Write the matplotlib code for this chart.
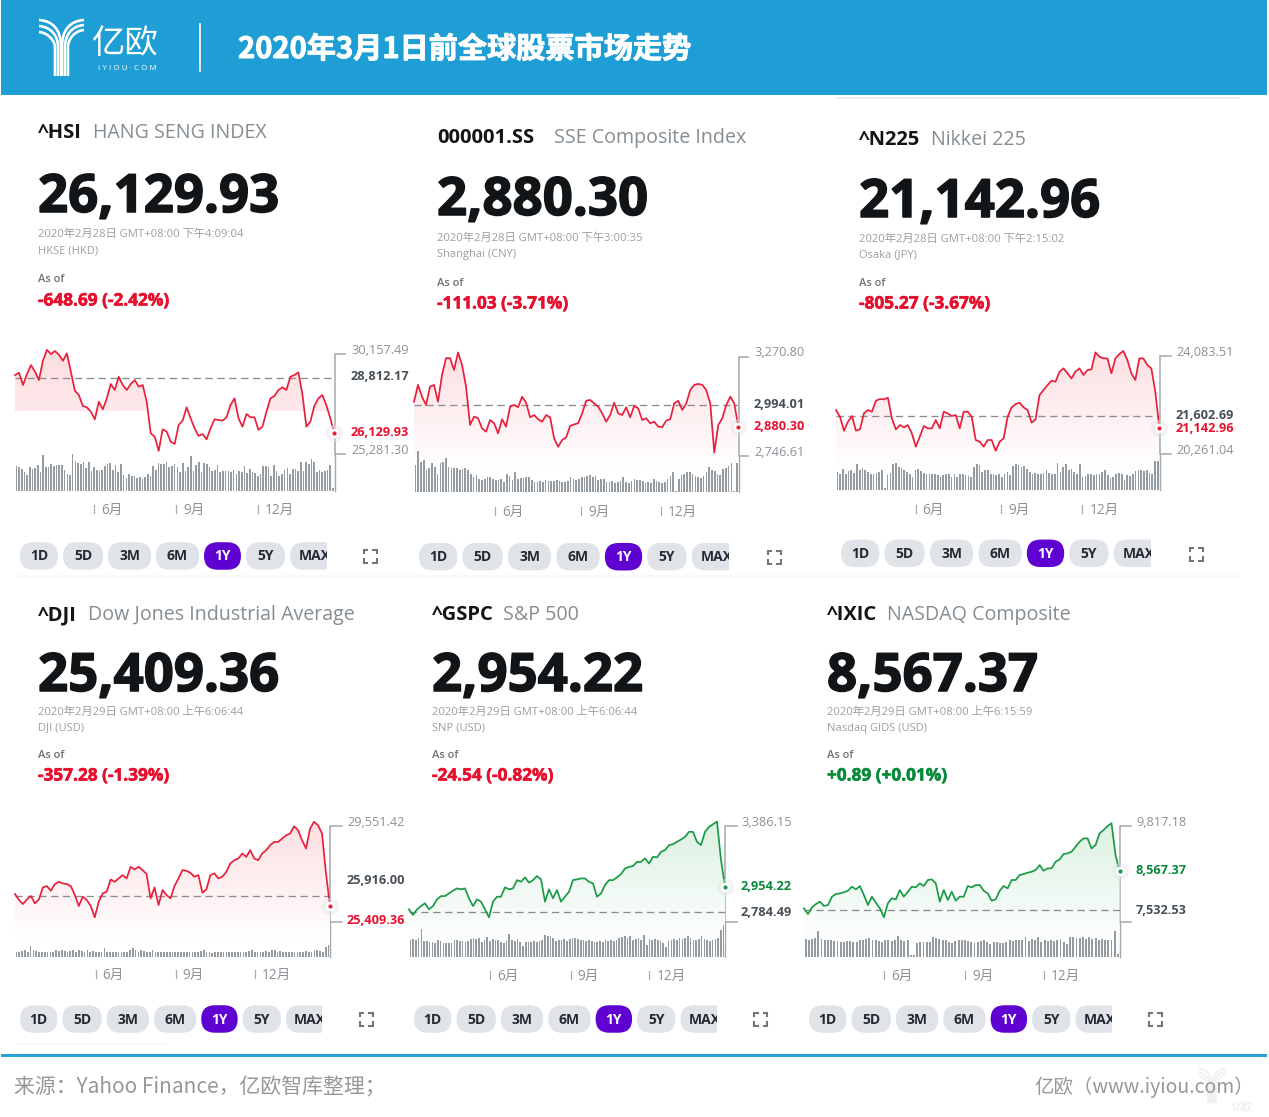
import numpy as np
import matplotlib
matplotlib.use("Agg")
import matplotlib.pyplot as plt
import matplotlib.patheffects as pe
from matplotlib.colors import LinearSegmentedColormap
from matplotlib.patches import FancyBboxPatch, PathPatch, Polygon, Rectangle
from matplotlib.path import Path

plt.rcParams['font.family'] = ['Open Sans', 'Noto Sans CJK SC', 'DejaVu Sans']

# Closing levels sampled across the one-year window
hsi_close = [28940,29053,28459,28989,29422,29101,28700,29631,30157.49,29952,30100,29920,29631,29984,29101,28186,27977,27447,27383,27174,26805,27656,27286,27816,28507,28218,28860,28459,28218,28507,28700,28378,28459,27656,26130,25969,25281.30,26323,26210,25728,25616,26532,26740,27383,26853,26371,26001,26098,25841,26371,26805,26772,26740,26901,27495,27816,26853,26451,27061,26901,26901,26291,26451,27174,27816,27929,28218,28346,28218,28860,28940,29069,28025,26451,26692,27447,27816,27977,27495,26853,26129.93]
sse_close = [3013,3101,3039,2996,3092,3101,3013,3153,3241,3241,3179,3270.80,3206,3092,2891,2935,2926,2873,2856,2917,2900,2847,2921,2882,2987,2996,2984,3039,3008,2931,2943,2921,2908,2943,2931,2821,2777,2812,2826,2886,2894,2900,2952,3018,3022,3004,2987,2952,2908,2943,3008,2952,2943,2984,2931,2991,2978,2917,2926,2900,2908,2882,2879,2914,2921,3004,3018,2970,3004,3074,3101,3106,3101,3074,3004,2746.61,2891,2926,2996,3039,3004,2880.30]
n225_close = [21820,21564,21028,21373,21590,21028,21079,21692,21820,21756,22177,22241,22229,22292,21501,21079,21245,21156,21245,20926,20415,20799,21207,21118,21118,21437,21118,21756,21692,21590,21629,21118,21756,21756,21564,20671,20607,20415,20671,20671,20261.04,20607,20735,21564,21922,22050,22101,21922,21820,21335,21463,22395,22586,22778,22944,22906,23289,23416,23225,23033,23289,23416,23161,23352,23378,24029,23863,23799,23799,23225,23799,23965,24083.51,23735,23225,22969,23799,23799,23544,23416,22522,21142.96]
dji_close = [25998,25704,25507,25736,25900,25540,25736,26325,26390,26161,26488,26602,26521,26488,26390,25949,25409,25867,25704,25409,24854,25622,26030,26112,26717,26602,26766,26929,26766,27338,27207,27338,27174,26978,25785,26325,25458,26194,25949,25785,26390,26766,27174,27141,27043,26847,26929,26063,26226,26929,27011,26766,26847,27092,27501,27664,27746,27991,27828,28155,27746,27664,27991,28155,28400,28563,28563,28726,28890,28972,29331,29135,28645,28236,29217,29551.42,29380,28972,27011,25409.36]
gspc_close = [2804,2767,2804,2826,2844,2804,2826,2870,2892,2892,2910,2928,2943,2937,2943,2877,2826,2870,2855,2804,2751,2855,2888,2888,2950,2937,2943,2998,2987,3016,2981,2998,3025,3003,2855,2937,2877,2932,2855,2888,2921,2998,3003,3009,3009,2987,2976,2888,2910,2965,2998,2998,3016,3038,3075,3086,3091,3119,3119,3142,3108,3153,3148,3186,3197,3230,3236,3252,3267,3285,3318,3318,3252,3230,3318,3351,3368,3386.15,3131,2954.22]
ixic_close = [7576,7427,7603,7690,7752,7638,7664,7883,7954,7971,7997,8041,8146,8076,8164,7927,7664,7883,7725,7576,7340,7708,7840,7813,8059,7883,8015,8146,8129,8234,8164,8322,8339,8234,7752,8059,7796,8015,7778,7883,7883,8164,8129,8190,8190,8041,7971,7778,7813,8041,8164,8102,8322,8322,8453,8480,8515,8541,8585,8716,8567,8629,8629,8804,8866,9006,9024,9067,9199,9330,9418,9418,9155,9243,9550,9637,9743,9817.18,8980,8567.37]

# Relative traded volume below each price line
hsi_volume = [75,72,65,58,48,72,66,70,78,58,108,72,72,80,75,78,78,78,62,50,48,112,90,85,80,86,70,86,60,72,62,60,62,75,80,85,62,78,56,80,48,38,50,46,44,38,42,36,40,50,46,76,62,84,80,82,86,72,76,82,72,58,84,60,72,104,60,78,86,58,84,80,72,60,62,78,58,60,60,60,58,62,50,60,58,74,54,66,58,54,46,50,76,74,72,46,78,60,46,50,62,70,50,66,66,60,86,60,86,80,96,86,56,62,56,60,62,78,8]
sse_volume = [80,120,90,95,65,70,85,75,55,85,90,100,75,72,72,70,65,68,70,65,55,45,50,40,35,40,45,45,40,35,35,40,30,55,48,35,60,40,42,42,45,44,35,30,30,32,30,35,32,34,33,35,32,30,30,32,45,40,35,40,45,45,48,50,45,48,35,38,38,30,30,32,28,30,32,45,30,28,34,38,35,35,32,28,30,28,38,32,30,28,30,38,48,60,4,40,50,55,58,60,55,48,45,42,48,58,75,65,62,55,52,68,72,78,85,5,85]
n225_volume = [55,50,65,50,58,62,52,78,62,66,60,55,50,48,52,55,60,5,45,52,80,82,70,68,62,55,50,38,60,65,58,52,50,48,50,48,46,38,45,50,48,40,48,40,48,48,46,44,40,70,78,75,55,62,60,50,48,45,48,40,48,55,45,72,78,75,70,72,65,55,50,52,48,50,52,60,52,50,48,82,55,70,78,60,65,55,50,78,40,42,48,48,45,48,48,55,60,45,35,38,50,52,50,30,45,42,50,58,60,62,58,60,52,50,88,88]
dji_volume = [15,16,18,20,16,34,20,18,15,16,14,14,14,15,22,18,20,18,16,18,20,16,22,18,16,20,16,18,14,16,14,28,16,14,14,15,14,16,14,16,20,26,22,16,20,18,16,14,20,16,14,16,14,14,16,14,16,14,14,16,14,14,16,14,16,18,20,16,14,12,16,14,16,14,14,16,14,16,14,16,14,14,18,20,16,14,14,16,18,16,20,22,16,18,14,16,14,14,16,15,14,16,18,14,16,20,22,18,16,30,38]
gspc_volume = [50,52,50,55,82,48,48,45,45,42,50,48,42,40,42,42,50,50,48,48,45,48,52,55,52,55,45,50,58,48,52,50,50,45,42,48,68,50,48,52,45,32,45,45,45,48,45,48,50,65,62,60,55,48,50,50,52,48,52,55,55,52,50,50,48,50,48,45,45,48,45,50,48,50,48,50,55,58,62,55,60,50,52,55,50,65,35,52,50,52,50,48,40,30,48,50,52,50,55,52,55,60,55,50,50,52,62,52,50,48,50,52,55,78,95]
ixic_volume = [55,50,55,58,78,55,52,50,50,48,48,46,46,48,48,45,45,52,50,55,58,50,52,48,45,52,50,48,52,65,50,48,50,5,5,42,45,45,45,46,60,58,55,52,50,45,42,48,50,50,52,48,46,42,44,48,50,45,38,45,44,42,42,44,52,48,50,52,50,60,48,55,50,62,45,50,48,52,48,52,55,45,40,62,62,58,58,60,55,60,55,58,52,55,50,52,50,80,8]

# Index tables
tickers = ['^HSI', '000001.SS', '^N225', '^DJI', '^GSPC', '^IXIC']
names = ['HANG SENG INDEX', 'SSE Composite Index', 'Nikkei 225', 'Dow Jones Industrial Average', 'S&P 500', 'NASDAQ Composite']
last_prices = [26129.93, 2880.30, 21142.96, 25409.36, 2954.22, 8567.37]
prev_closes = [28812.17, 2994.01, 21602.69, 25916.00, 2784.49, 7532.53]
range_highs = ['30,157.49', '3,270.80', '24,083.51', '29,551.42', '3,386.15', '9,817.18']
range_lows = ['25,281.30', '2,746.61', '20,261.04', '25,409.36', '2,784.49', '7,532.53']
timestamps = ['2020年2月28日 GMT+08:00 下午4:09:04', '2020年2月28日 GMT+08:00 下午3:00:35', '2020年2月28日 GMT+08:00 下午2:15:02',
              '2020年2月29日 GMT+08:00 上午6:06:44', '2020年2月29日 GMT+08:00 上午6:06:44', '2020年2月29日 GMT+08:00 上午6:15:59']
exchanges = ['HKSE (HKD)', 'Shanghai (CNY)', 'Osaka (JPY)', 'DJI (USD)', 'SNP (USD)', 'Nasdaq GIDS (USD)']
changes = ['-648.69 (-2.42%)', '-111.03 (-3.71%)', '-805.27 (-3.67%)', '-357.28 (-1.39%)', '-24.54 (-0.82%)', '+0.89 (+0.01%)']
months = ['6月', '9月', '12月']
ranges = ['1D', '5D', '3M', '6M', '1Y', '5Y', 'MAX']

closes = [hsi_close, sse_close, n225_close, dji_close, gspc_close, ixic_close]
volumes = [hsi_volume, sse_volume, n225_volume, dji_volume, gspc_volume, ixic_volume]

W, H = 1269, 1117
BLUE = '#1e9ed5'
RED = '#e8203c'
RED_TXT = '#e60f2d'
GREEN = '#1a9a46'
GREEN_TXT = '#078a39'
GREY = '#8b9298'
DARK = '#464e56'
INK = '#111518'

# Panel layout in figure pixels
layout = [
    dict(x0=15, x1=334.3, prev_y=377.7, last_y=433.3, top=340, bot=470, fade=411, vbase=490.7, vh=37, vmax=112,
         tx=38, ty=130, nx=93, by=192, dy=233, ey=250, ay=278, cy=299,
         lx=351, ly=[349, 376, 432, 450], bt=354, bb=454, bx=345,
         mt=[94, 176, 257.5], my=509, px=20, pk=1.0, py=556, ix=370, iy=556, soft=True),
    dict(x0=414, x1=738.3, prev_y=405.3, last_y=427, top=340, bot=480, fade=470, vbase=492.3, vh=41, vmax=120,
         tx=437, ty=135, nx=554, by=195, dy=237, ey=253, ay=282, cy=302,
         lx=754, ly=[352, 404, 426, 451], bt=356.7, bb=456, bx=748,
         mt=[495, 581, 660.7], my=511, px=419, pk=1.01, py=556.7, ix=774, iy=557, soft=False),
    dict(x0=836, x1=1159.3, prev_y=415.7, last_y=427.7, top=340, bot=480, fade=470, vbase=490, vh=29, vmax=88,
         tx=859, ty=137, nx=931, by=197, dy=238, ey=254, ay=282, cy=302,
         lx=1176, ly=[351, 414.5, 427, 449.5], bt=355.7, bb=454, bx=1171,
         mt=[915.7, 1001, 1082.3], my=509, px=841, pk=1.01, py=553.3, ix=1196, iy=554, soft=False),
    dict(x0=15, x1=330, prev_y=895.7, last_y=906, top=815, bot=950, fade=942, vbase=956.7, vh=12, vmax=38,
         tx=38, ty=612, nx=88, by=671, dy=711, ey=727, ay=754, cy=774,
         lx=347, ly=[821, 880, 920, None], bt=826, bb=921.7, bx=342,
         mt=[95.7, 175.7, 255], my=974.3, px=20, pk=0.985, py=1019, ix=366, iy=1019, soft=False),
    dict(x0=409, x1=725, prev_y=912.3, last_y=886.7, top=815, bot=950, fade=945, vbase=956.7, vh=32, vmax=95,
         tx=432, ty=612, nx=503, by=671, dy=711, ey=727, ay=754, cy=774,
         lx=741, ly=[821, 911, 885, None], bt=826, bb=921.7, bx=736.7,
         mt=[490, 570.7, 649.3], my=975, px=414, pk=0.987, py=1019, ix=760.7, iy=1019, soft=False),
    dict(x0=804, x1=1119.5, prev_y=910, last_y=870.7, top=815, bot=950, fade=945, vbase=956.7, vh=26, vmax=80,
         tx=827, ty=612, nx=887, by=671, dy=711, ey=727, ay=754, cy=774,
         lx=1136, ly=[821, 909, 869, None], bt=826, bb=922, bx=1131,
         mt=[884, 965, 1044], my=975, px=809, pk=0.987, py=1019, ix=1155, iy=1019, soft=False),
]
# Pill extents for the range selector, measured from the selector's left end
pill_spans = [(0, 38), (43, 83), (88, 131), (136, 179), (184, 221), (226, 265), (270, 307)]


def rect_for(x0, x1, top, bot):
    return [x0 / W, 1 - bot / H, (x1 - x0) / W, (bot - top) / H]


def heavy(artist, width, color):
    # Thicken a text with a thin outline of its own colour
    artist.set_path_effects([pe.withStroke(linewidth=width, foreground=color)])


fig = plt.figure(figsize=(W / 100, H / 100), dpi=100, facecolor='white')
canvas = fig.add_axes([0, 0, 1, 1], zorder=0)
canvas.set_xlim(0, W)
canvas.set_ylim(H, 0)
canvas.axis('off')


def draw_logo(ax, ox, oy, s, color, alpha=1.0, lw=1.9):
    # Two fans of three curved strokes joining into a trunk
    left = [(0, 1, 22), (0, 7, 19), (0, 13, 16)]
    right = [(45, 1, 23), (45, 6, 26), (45, 11, 29)]
    for sx, sy, tx in left + right:
        verts = [(sx, sy), (tx + (sx - tx) * 0.35, sy + 1), (tx, sy + 10), (tx, 28), (tx, 57)]
        codes = [Path.MOVETO, Path.CURVE4, Path.CURVE4, Path.CURVE4, Path.LINETO]
        pts = [(ox + x * s, oy + y * s) for x, y in verts]
        ax.add_patch(PathPatch(Path(pts, codes), fill=False, edgecolor=color, lw=lw, alpha=alpha, capstyle='butt'))


# Header band, logo and title
canvas.add_patch(Rectangle((1, 0), 1266, 95, fc=BLUE, ec='none'))
draw_logo(canvas, 39, 19, 1.0, 'white')
canvas.text(125, 44, '亿欧', color='white', fontsize=24, ha='center', va='center', family=['Noto Sans CJK SC'])
canvas.text(127, 68.5, 'I Y I O U · C O M', color='white', fontsize=5.8, ha='center', va='center')
canvas.plot([199.5, 199.5], [24, 71], color='white', lw=1.2)
title = canvas.text(238, 49, '2020年3月1日前全球股票市场走势', color='white', fontsize=21, fontweight='bold',
                    ha='left', va='center', family=['Noto Sans CJK SC'])
heavy(title, 0.7, 'white')

# Faint separators between cards
canvas.add_patch(Rectangle((836, 96.5), 404, 2.5, fc='#eceeef', ec='none'))
canvas.add_patch(Rectangle((15, 575), 1225, 3, fc='#f8f9f9', ec='none'))

for i, cfg in enumerate(layout):
    values = np.array(closes[i], dtype=float)
    vols = np.array(volumes[i], dtype=float)
    prev, last = prev_closes[i], last_prices[i]
    rising = last >= prev
    line_c = GREEN if rising else RED
    txt_c = GREEN_TXT if rising else RED_TXT
    change_c = RED_TXT if changes[i].startswith('-') else GREEN_TXT

    # Header text of the card
    canvas.text(cfg['tx'], cfg['ty'] + 3, tickers[i], color=INK, fontsize=14.5, fontweight='bold', va='center')
    canvas.text(cfg['nx'], cfg['ty'] + 3, names[i], color='#858d93', fontsize=14.1, va='center')
    big = canvas.text(cfg['tx'], cfg['by'] + 6, f'{last:,.2f}', color=INK, fontsize=38, fontweight='bold', va='center')
    heavy(big, 1.1, INK)
    canvas.text(cfg['tx'], cfg['dy'] + 1.5, timestamps[i], color='#9b9fa3', fontsize=8.15, va='center')
    canvas.text(cfg['tx'], cfg['ey'] + 1, exchanges[i], color='#9b9fa3', fontsize=8, va='center')
    canvas.text(cfg['tx'], cfg['ay'] + 2, 'As of', color='#6b7278', fontsize=8, fontweight='semibold', va='center')
    chg = canvas.text(cfg['tx'], cfg['cy'] + 1.5, changes[i], color=change_c, fontsize=12.4, fontweight='bold', va='center')
    heavy(chg, 0.4, change_c)

    # Price axes: the previous close and the last price fix the vertical scale
    per_px = (prev - last) / (cfg['last_y'] - cfg['prev_y'])
    v_at = lambda y: prev + (cfg['prev_y'] - y) * per_px
    ax = fig.add_axes(rect_for(cfg['x0'], cfg['x1'], cfg['top'], cfg['bot']), zorder=2)
    ax.patch.set_alpha(0)
    ax.axis('off')
    xs = np.arange(len(values))

    # Area under the line, shaded from the line's peak down to the fade level
    stops = ['#dcf1e3', '#ffffff'] if rising else (['#fcdde0', '#ffe9ea'] if cfg['soft'] else ['#fcdfe2', '#ffffff'])
    cmap = LinearSegmentedColormap.from_list('area', stops)
    grad = np.linspace(0, 1, 256).reshape(-1, 1)
    im = ax.imshow(grad, aspect='auto', cmap=cmap, origin='upper', zorder=1,
                   extent=[0, len(values) - 1, v_at(cfg['fade']), values.max()], interpolation='bilinear')
    ax.set_xlim(0, len(values) - 1)
    ax.set_ylim(v_at(cfg['bot']), v_at(cfg['top']))
    area = np.column_stack([np.r_[xs, xs[-1], 0], np.r_[values, v_at(cfg['bot']), v_at(cfg['bot'])]])
    clip = Polygon(area, closed=True, transform=ax.transData)
    im.set_clip_path(clip)

    ax.plot(xs, values, color=line_c, lw=1.25, zorder=3, solid_joinstyle='round', clip_on=False)
    ax.plot([0, len(values) - 1], [prev, prev], color='#8c8c8c', lw=0.95, dashes=(5.5, 3.5), zorder=2)
    ax.scatter([xs[-1]], [last], s=150, color='#e3e5e7', alpha=0.45, lw=0, zorder=4, clip_on=False)
    ax.scatter([xs[-1]], [last], s=42, color='white', lw=0, zorder=5, clip_on=False)
    ax.scatter([xs[-1]], [last], s=9, color=line_c, lw=0, zorder=6, clip_on=False)

    # Volume bars sit in front of the shaded area
    vax = fig.add_axes(rect_for(cfg['x0'], cfg['x1'], cfg['vbase'] - cfg['vh'], cfg['vbase']), zorder=3)
    vax.patch.set_alpha(0)
    vax.axis('off')
    vax.bar(np.arange(len(vols)), vols, width=0.6, color='#959ca1', lw=0)
    vax.set_xlim(-0.5, len(vols) - 0.5)
    vax.set_ylim(0, cfg['vmax'])

    # Range bracket and its labels
    bar_x = cfg['x1'] + 0.3
    canvas.plot([cfg['bx'], bar_x, bar_x, cfg['bx']], [cfg['bt'], cfg['bt'], cfg['bb'], cfg['bb']],
                color='#a4a8ac', lw=1.1, solid_joinstyle='miter')
    canvas.plot([bar_x, bar_x], [cfg['bb'], cfg['vbase']], color='#a4a8ac', lw=1.0)
    ly = cfg['ly']
    canvas.text(cfg['lx'], ly[0] + 1, range_highs[i], color=GREY, fontsize=9.2, va='center')
    canvas.text(cfg['lx'], ly[1] + 1, f'{prev:,.2f}', color=DARK, fontsize=9.2, fontweight='bold', va='center')
    canvas.text(cfg['lx'], ly[2] + 1, f'{last:,.2f}', color=txt_c, fontsize=9.2, fontweight='bold', va='center')
    if ly[3] is not None:
        canvas.text(cfg['lx'], ly[3] + 1, range_lows[i], color=GREY, fontsize=9.2, va='center')

    # Month marks
    for mx, mlabel in zip(cfg['mt'], months):
        canvas.plot([mx, mx], [cfg['my'] - 4, cfg['my'] + 4], color='#a9adb1', lw=0.9)
        canvas.text(mx + 7, cfg['my'] + 1, mlabel, color='#8b9196', fontsize=9.8, va='center')

    # Range selector pills
    for j, (rng, (a, b)) in enumerate(zip(ranges, pill_spans)):
        xa = cfg['px'] + a * cfg['pk']
        xb = cfg['px'] + b * cfg['pk']
        h = 27.5
        active = rng == '1Y'
        pill = FancyBboxPatch((xa, cfg['py'] - h / 2), xb - xa + (10 if rng == 'MAX' else 0), h,
                              boxstyle=f'round,pad=0,rounding_size={h / 2}', fc='#5f01d1' if active else '#e0e4e9',
                              ec='none', mutation_aspect=1)
        canvas.add_patch(pill)
        label = canvas.text((xa + xb) / 2 + (6 if rng == 'MAX' else 0), cfg['py'] + 0.5, rng,
                            color='white' if active else '#232a31',
                            fontsize=10, fontweight='bold', ha='center', va='center')
        if rng == 'MAX':
            edge = Rectangle((xa - 2, cfg['py'] - 20), xb - xa + 2, 40, transform=canvas.transData)
            pill.set_clip_path(edge)
            label.set_clip_path(edge)
            label.set_clip_on(True)

    # Fullscreen icon
    ix, iy, r, c = cfg['ix'], cfg['iy'], 6.5, 3.6
    for sx in (-1, 1):
        for sy in (-1, 1):
            canvas.plot([ix + sx * r, ix + sx * r, ix + sx * (r - c)], [iy + sy * (r - c), iy + sy * r, iy + sy * r],
                        color='#70777d', lw=1.5, solid_joinstyle='miter')

# Footer
canvas.add_patch(Rectangle((1, 1054), 1266, 2.6, fc='#27a1d6', ec='none'))
canvas.add_patch(Rectangle((15, 1043), 150, 2, fc='#f8f9f9', ec='none'))
draw_logo(canvas, 1198, 1068, 0.62, '#eef0f1', lw=1.2)
canvas.text(1232, 1108, '亿欧', color='#e8eaeb', fontsize=7.5, ha='left', va='center', family=['Noto Sans CJK SC'])
canvas.text(14, 1087, '来源：Yahoo Finance，亿欧智库整理；', color='#979797', fontsize=15, ha='left', va='center',
            family=['Noto Sans CJK SC'])
canvas.text(1254, 1087, '亿欧（www.iyiou.com）', color='#979797', fontsize=14, ha='right', va='center',
            family=['Noto Sans CJK SC'])

fig.savefig('out.png', dpi=100, facecolor='white')
